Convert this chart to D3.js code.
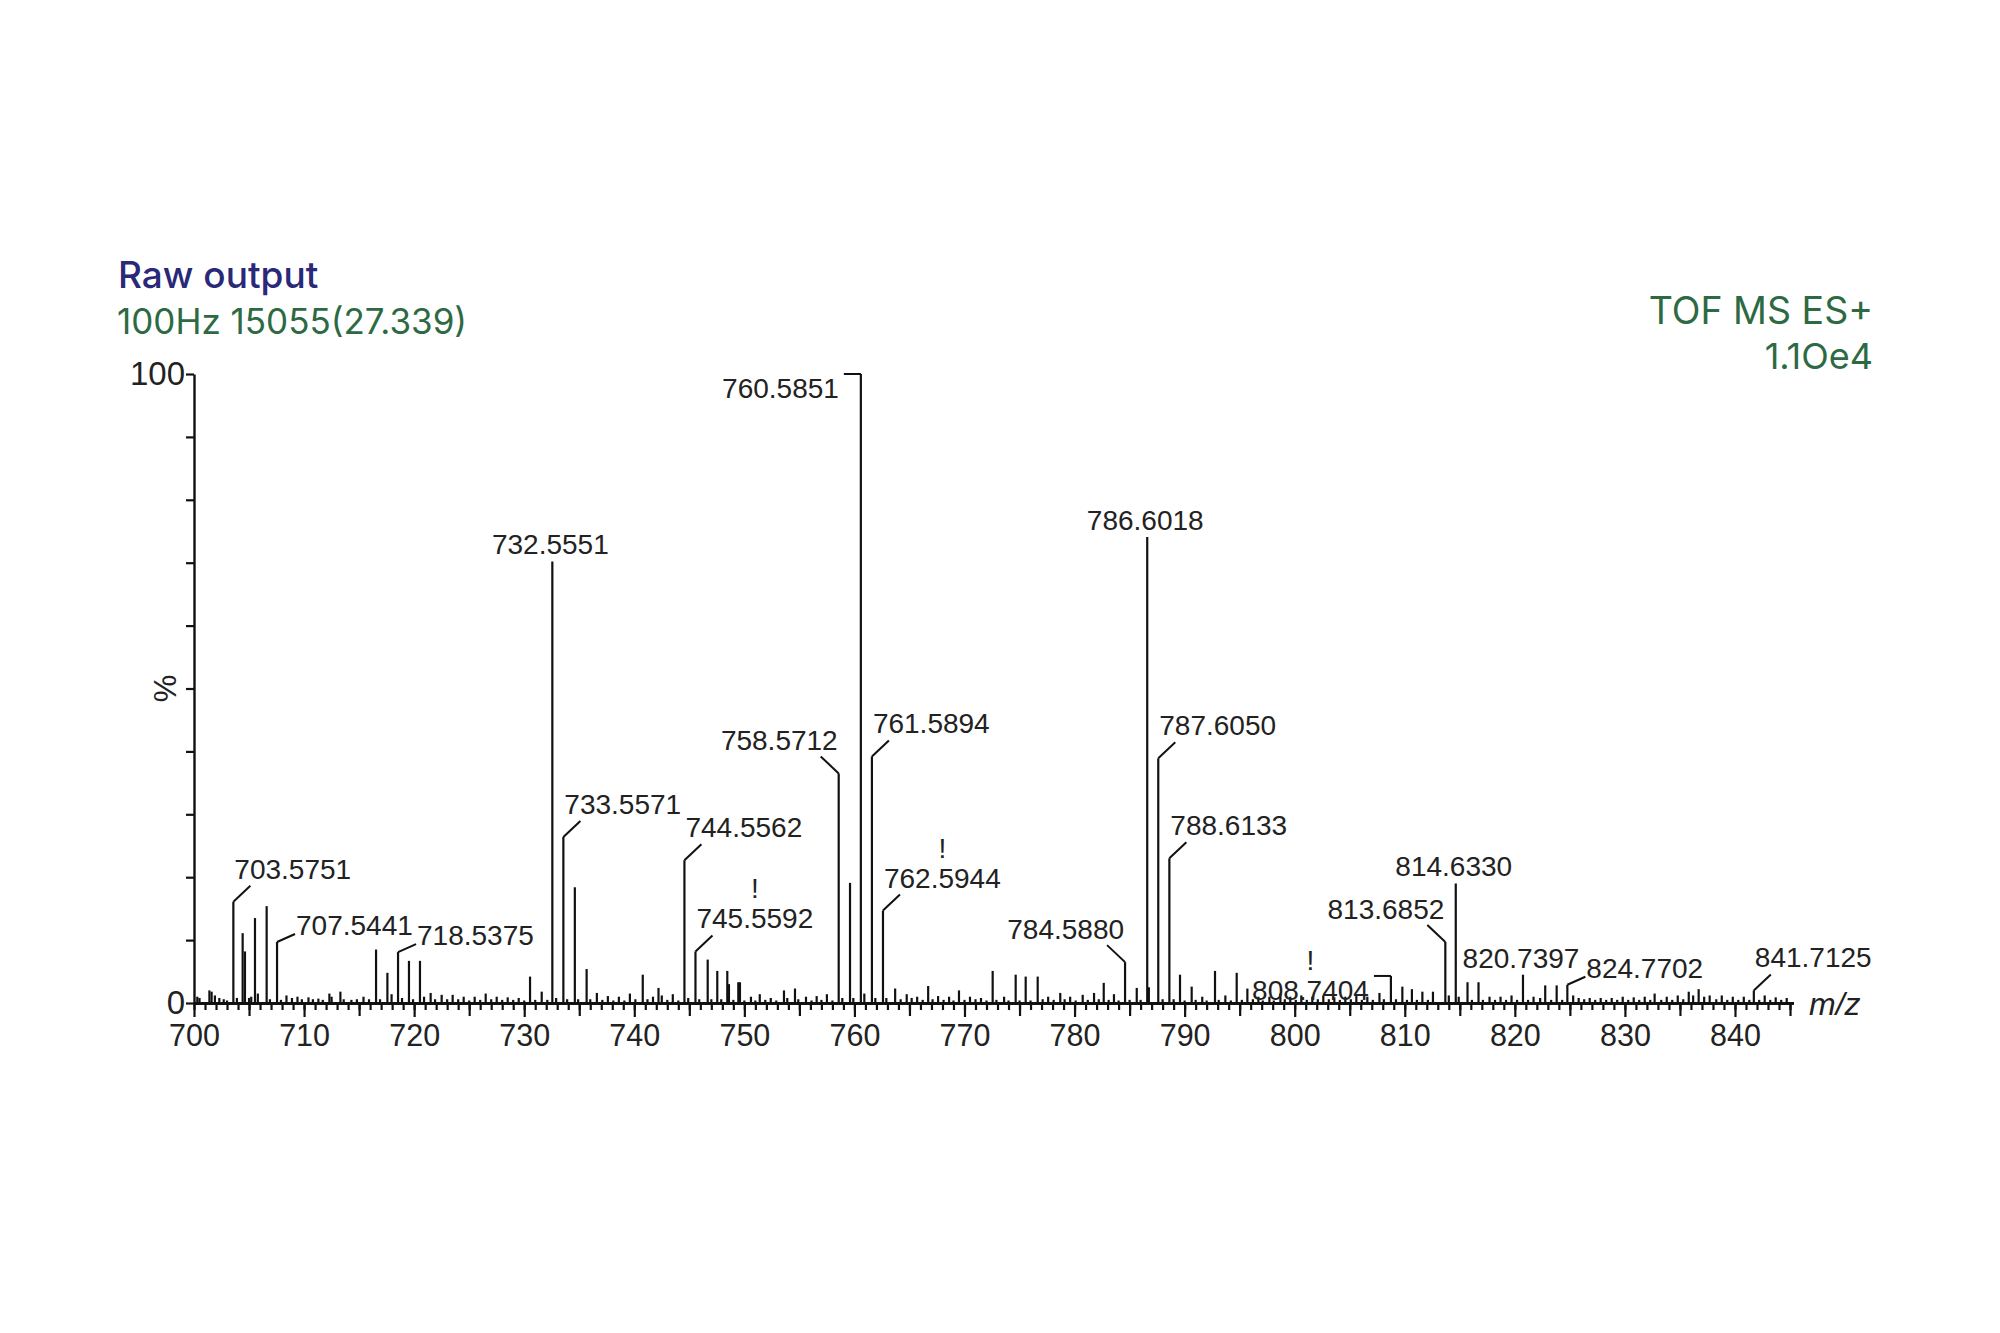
<!DOCTYPE html>
<html><head><meta charset="utf-8">
<script src="https://cdn.jsdelivr.net/npm/d3@7"></script>
<style>
body{margin:0;background:#fff;}
svg{display:block;}
</style></head>
<body>
<svg id="chart" width="2000" height="1333"></svg>
<script>
// ---------- DATA ----------
const labelMz = [703.5751, 707.5441, 718.5375, 732.5551, 733.5571, 744.5562, 745.5592, 758.5712, 760.5851, 761.5894, 762.5944, 784.5880, 786.6018, 787.6050, 788.6133, 808.7404, 813.6852, 814.6330, 820.7397, 824.7702, 841.7125];
const labelIntensity = [16.1, 9.7, 8.1, 70.2, 26.4, 22.7, 8.2, 36.5, 100, 39.2, 14.7, 6.5, 74.1, 38.9, 23.0, 4.3, 9.7, 19.0, 4.5, 2.9, 2.0];
const flaggedLabels = ["745.5592", "762.5944", "808.7404"];

const minorMz = [
  700.3,700.5,701.4,701.6,701.9,702.3,702.7,703.0,703.9,704.42,704.63,705.0,705.2,705.54,705.8,706.6,706.9,707.9,
  708.4,708.9,709.4,709.8,710.4,710.8,711.3,711.7,712.3,712.5,713.3,713.6,714.3,714.8,715.4,715.9,716.54,716.9,
  717.57,717.95,718.9,719.53,719.9,720.53,720.9,721.5,721.9,722.5,723.0,723.5,724.0,724.5,725.0,725.5,726.0,726.5,
  727.0,727.5,728.0,728.5,729.0,729.5,730.0,730.53,731.0,731.59,732.1,732.9,733.9,734.6,734.9,735.67,736.0,736.6,
  737.1,737.6,738.1,738.6,739.1,739.6,740.1,740.77,741.2,741.7,742.2,742.5,743.0,743.5,744.0,744.9,745.9,746.67,
  747.0,747.54,747.9,748.45,748.6,749.0,749.45,749.6,750.0,750.6,751.0,751.4,751.9,752.4,752.9,753.6,753.9,754.6,
  754.9,755.6,756.1,756.57,757.0,757.5,758.0,758.9,759.6,759.9,760.9,761.9,762.9,763.7,764.2,764.75,765.2,765.7,
  766.2,766.7,767.1,767.6,768.1,768.6,769.0,769.5,770.0,770.5,771.0,771.5,772.0,772.56,772.9,773.6,774.0,774.65,
  775.0,775.56,776.0,776.65,777.1,777.6,778.1,778.7,779.1,779.6,780.1,780.74,781.2,781.77,782.2,782.65,783.1,783.58,
  784.0,785.0,785.65,786.0,786.75,788.0,789.0,789.58,790.0,790.64,791.0,791.6,792.0,792.76,793.1,793.7,794.2,794.73,
  795.2,795.7,796.2,796.7,797.1,797.7,798.1,798.7,799.1,799.6,800.1,800.6,801.1,801.6,802.1,802.6,803.1,803.6,
  804.1,804.6,805.1,805.6,806.1,806.6,807.1,807.7,808.1,809.2,809.78,810.2,810.65,811.1,811.6,812.1,812.56,814.0,
  814.9,815.7,816.1,816.7,817.1,817.7,818.2,818.7,819.2,819.7,820.2,821.2,821.7,822.3,822.76,823.3,823.8,824.3,
  825.3,825.8,826.3,826.8,827.3,827.8,828.3,828.8,829.3,829.8,830.3,830.8,831.3,831.8,832.3,832.7,833.3,833.8,
  834.3,834.8,835.3,835.8,836.2,836.7,837.2,837.7,838.3,838.8,839.3,839.8,840.3,840.8,841.3,842.2,842.7,843.2,
  843.7,844.2,844.7
];
const minorIntensity = [
  1.0,0.8,2.0,1.8,1.2,0.8,0.6,0.4,0.8,11.1,8.2,0.8,1.0,13.5,1.5,15.4,0.6,0.5,
  1.2,0.8,1.0,0.6,0.9,0.6,0.7,0.5,1.5,1.0,1.8,0.6,0.5,0.6,1.0,0.6,8.5,0.6,
  4.8,1.4,0.8,6.7,0.6,6.7,1.0,1.6,0.6,1.3,0.6,1.3,0.6,1.0,0.4,1.0,0.5,1.5,
  0.6,1.0,0.5,0.9,0.5,0.8,0.4,4.2,0.5,1.8,0.5,0.8,0.6,18.4,0.6,5.4,0.6,1.6,
  0.5,1.1,0.4,1.0,0.4,1.5,0.6,4.5,0.6,1.0,2.4,1.2,0.5,1.4,0.4,0.8,0.6,6.9,
  0.6,5.1,0.6,5.1,3.0,0.5,3.3,3.3,0.4,1.0,0.4,1.4,0.5,0.8,0.4,2.0,0.8,2.3,
  0.6,1.0,0.4,1.1,0.5,1.4,0.4,0.8,19.1,0.8,1.5,0.8,0.8,2.3,0.6,1.4,0.8,1.0,
  0.5,2.7,0.6,1.1,0.5,1.0,0.4,2.0,0.5,1.0,0.6,0.8,0.4,5.1,0.5,1.0,0.4,4.5,
  0.4,4.2,0.4,4.2,0.6,1.0,0.5,1.6,0.6,1.0,0.4,1.3,0.5,1.6,0.6,3.2,0.5,1.4,
  0.4,0.5,2.4,0.5,2.5,0.6,0.6,4.5,0.4,2.6,0.5,1.0,0.4,5.1,0.5,1.2,0.4,4.8,
  0.5,2.3,0.6,1.0,0.4,1.0,0.4,1.5,0.6,1.0,0.5,1.2,0.5,1.0,0.6,1.2,0.6,0.9,
  0.5,1.0,0.6,1.2,0.5,1.0,0.5,1.6,0.6,0.6,2.6,0.5,2.2,0.5,1.8,0.5,1.8,1.2,
  1.0,3.3,0.5,3.3,0.5,1.0,0.5,1.0,0.5,1.2,0.5,0.5,1.0,0.8,2.8,0.5,2.8,0.5,
  1.2,0.8,0.6,0.8,0.5,0.8,0.5,0.8,0.5,1.0,0.5,0.9,0.5,1.0,0.5,1.5,0.5,1.0,
  0.5,1.2,0.6,1.8,1.2,2.2,1.0,1.2,0.6,1.2,0.5,1.0,0.5,1.0,0.5,0.5,1.2,0.5,
  0.9,0.5,0.8
];
const xMajorTicks = [700, 710, 720, 730, 740, 750, 760, 770, 780, 790, 800, 810, 820, 830, 840];
const yTicks = [0, 10, 20, 30, 40, 50, 60, 70, 80, 90, 100];
const yLabelledTicks = [0, 100];

// ---------- LAYOUT ----------
const svg = d3.select("#chart");
const x0 = 194, yBase = 1003, yTop = 374, pxPerUnit = 11.007, xEnd = 845.3;
const x = d3.scaleLinear().domain([700, xEnd]).range([x0, x0 + pxPerUnit * (xEnd - 700)]);
const y = d3.scaleLinear().domain([0, 100]).range([yBase, yTop]);

const headFont = "Inter, 'Noto Sans', sans-serif";
const chartFont = "'Liberation Sans', Arial, sans-serif";

// headers
svg.append("text").attr("x", 118).attr("y", 288).attr("font-family", headFont)
  .attr("font-size", 37).attr("font-weight", 500).attr("fill", "#2a2878").text("Raw output");
svg.append("text").attr("x", 117).attr("y", 334).attr("font-family", headFont)
  .attr("font-size", 35).attr("font-weight", 400).attr("fill", "#2d6a43").text("100Hz 15055(27.339)");
svg.append("text").attr("x", 1873).attr("y", 324).attr("text-anchor", "end").attr("font-family", headFont)
  .attr("font-size", 37.5).attr("font-weight", 400).attr("fill", "#2d6a43").text("TOF MS ES+");
svg.append("text").attr("x", 1873).attr("y", 369).attr("text-anchor", "end").attr("font-family", headFont)
  .attr("font-size", 36).attr("font-weight", 400).attr("fill", "#2d6a43").text("1.1Oe4");

// peaks
const g = svg.append("g").attr("stroke", "#111").attr("stroke-width", 2.2);
const minor = minorMz.map((m, i) => [m, minorIntensity[i]]);
const major = labelMz.map((m, i) => [m, labelIntensity[i]]);
g.selectAll("line.minor").data(minor).join("line").attr("class", "minor")
  .attr("x1", d => x(d[0])).attr("x2", d => x(d[0]))
  .attr("y1", y(0)).attr("y2", d => y(d[1]));
g.selectAll("line.major").data(major).join("line").attr("class", "major")
  .attr("x1", d => x(d[0])).attr("x2", d => x(d[0]))
  .attr("y1", y(0)).attr("y2", d => y(d[1]));

// axes
const minorTicks = d3.range(700, 846, 1);
const midTicks = d3.range(705, 846, 10);
const axG = svg.append("g").attr("transform", `translate(0,${yBase})`);
axG.call(d3.axisBottom(x).tickValues(minorTicks).tickSize(7).tickFormat("").tickSizeOuter(0));
axG.append("g").call(d3.axisBottom(x).tickValues(midTicks).tickSize(13).tickFormat("").tickSizeOuter(0));
axG.append("g").call(d3.axisBottom(x).tickValues(xMajorTicks).tickSize(14).tickPadding(7).tickFormat(d3.format("d")).tickSizeOuter(0));
axG.selectAll(".domain").attr("stroke", "#111").attr("stroke-width", 2.4);
axG.selectAll(".tick line").attr("stroke", "#111").attr("stroke-width", 2.2);
axG.selectAll(".tick text").attr("font-family", chartFont).attr("font-size", 30.5).attr("fill", "#222");

const ayG = svg.append("g").attr("transform", `translate(${x0},0)`);
ayG.call(d3.axisLeft(y).tickValues(yTicks).tickSize(8).tickPadding(1)
  .tickFormat(d => yLabelledTicks.includes(d) ? d3.format("d")(d) : "").tickSizeOuter(0));
ayG.select(".domain").attr("stroke", "#111").attr("stroke-width", 2.4);
ayG.selectAll(".tick line").attr("stroke", "#111").attr("stroke-width", 2.2);
ayG.selectAll(".tick text").attr("font-family", chartFont).attr("font-size", 33).attr("fill", "#222");

svg.append("text").attr("transform", `translate(176,${y(50)}) rotate(-90)`).attr("text-anchor", "middle")
  .attr("font-family", chartFont).attr("font-size", 31).attr("fill", "#222").text("%");
svg.append("text").attr("x", 1809).attr("y", 1015).attr("font-family", chartFont)
  .attr("font-size", 32).attr("font-style", "italic").attr("fill", "#222").text("m/z");

// peak labels
const placement = {
  "703.5751": "right", "707.5441": "side", "718.5375": "side", "732.5551": "above",
  "733.5571": "right", "744.5562": "right", "745.5592": "right", "758.5712": "left",
  "760.5851": "bracket", "761.5894": "right", "762.5944": "right", "784.5880": "left",
  "786.6018": "above", "787.6050": "right", "788.6133": "right", "808.7404": "bracket",
  "813.6852": "left", "814.6330": "above", "820.7397": "above", "824.7702": "side", "841.7125": "right"
};
const lg = svg.append("g");
major.forEach(([m, v]) => {
  const key = m.toFixed(4);
  const px = x(m), py = y(v);
  const mode = placement[key];
  let tx, ty, anchor, leader = null;
  if (mode === "right") { leader = [[px, py], [px + 17, py - 16]]; tx = px + 1; ty = py - 23; anchor = "start"; }
  else if (mode === "side") { leader = [[px, py], [px + 18, py - 8]]; tx = px + 19; ty = py - 7; anchor = "start"; }
  else if (mode === "left") { leader = [[px, py], [px - 18, py - 17]]; tx = px - 1; ty = py - 23; anchor = "end"; }
  else if (mode === "bracket") { leader = [[px, py], [px - 17, py]]; tx = px - 22; ty = py + 24; anchor = "end"; }
  else { tx = px - 2; ty = py - 7; anchor = "middle"; }
  if (leader) {
    lg.append("path").attr("d", d3.line()(leader)).attr("fill", "none")
      .attr("stroke", "#111").attr("stroke-width", 2);
  }
  const t = lg.append("text").attr("x", tx).attr("y", ty).attr("text-anchor", anchor)
    .attr("font-family", chartFont).attr("font-size", 28).attr("fill", "#222").text(key);
  if (flaggedLabels.includes(key)) {
    const w = t.node().getComputedTextLength();
    const cx = anchor === "start" ? tx + w / 2 : anchor === "end" ? tx - w / 2 : tx;
    lg.append("text").attr("x", cx).attr("y", ty - 30).attr("text-anchor", "middle")
      .attr("font-family", chartFont).attr("font-size", 28).attr("fill", "#222").text("!");
  }
});
</script>
</body></html>
